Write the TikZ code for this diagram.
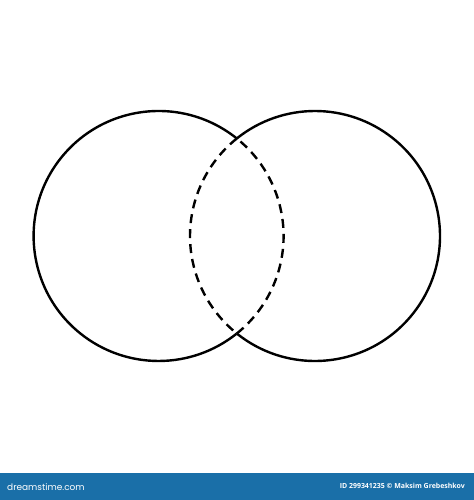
\documentclass[tikz,border=0pt]{standalone}
\usepackage{fontspec}
\setmainfont{Open Sans}
\newfontfamily\logofont{Poppins}
\definecolor{barblue}{HTML}{1A6FA8}

\begin{document}
\begin{tikzpicture}
					[x=1bp, y=1bp, line width=2.4bp, solid arc/.style={black}, hidden arc/.style={black, dash pattern=on 9bp off 6bp}]
					\useasboundingbox (0,0) rectangle (474,500);
					\coordinate (L) at (158.6,264);
					\coordinate (R) at (315,264);
					% outer parts
					\draw[solid arc] (L) ++(51.3:125) arc[start angle=51.3, end angle=308.7, radius=125];
					\draw[solid arc] (R) ++(-128.7:125) arc[start angle=-128.7, end angle=128.7, radius=125];
					% overlap
					\draw[hidden arc] (L) ++(-51.3:125) arc[start angle=-51.3, end angle=51.3, radius=125];
					\draw[hidden arc] (R) ++(128.7:125) arc[start angle=128.7, end angle=231.3, radius=125];
					\fill[barblue] (0,0) rectangle (474,27);
					\node[anchor=west, text=white, font=\logofont\fontsize{9}{10}\selectfont, inner sep=0pt] (logo) at (6,13) {dreamstime.com};
					\node[anchor=east, text=white, font=\bfseries\fontsize{7}{8}\selectfont, inner sep=0pt] (credit) at (466,14) {ID 299341235 © Maksim Grebeshkov};
				\end{tikzpicture}
\end{document}
